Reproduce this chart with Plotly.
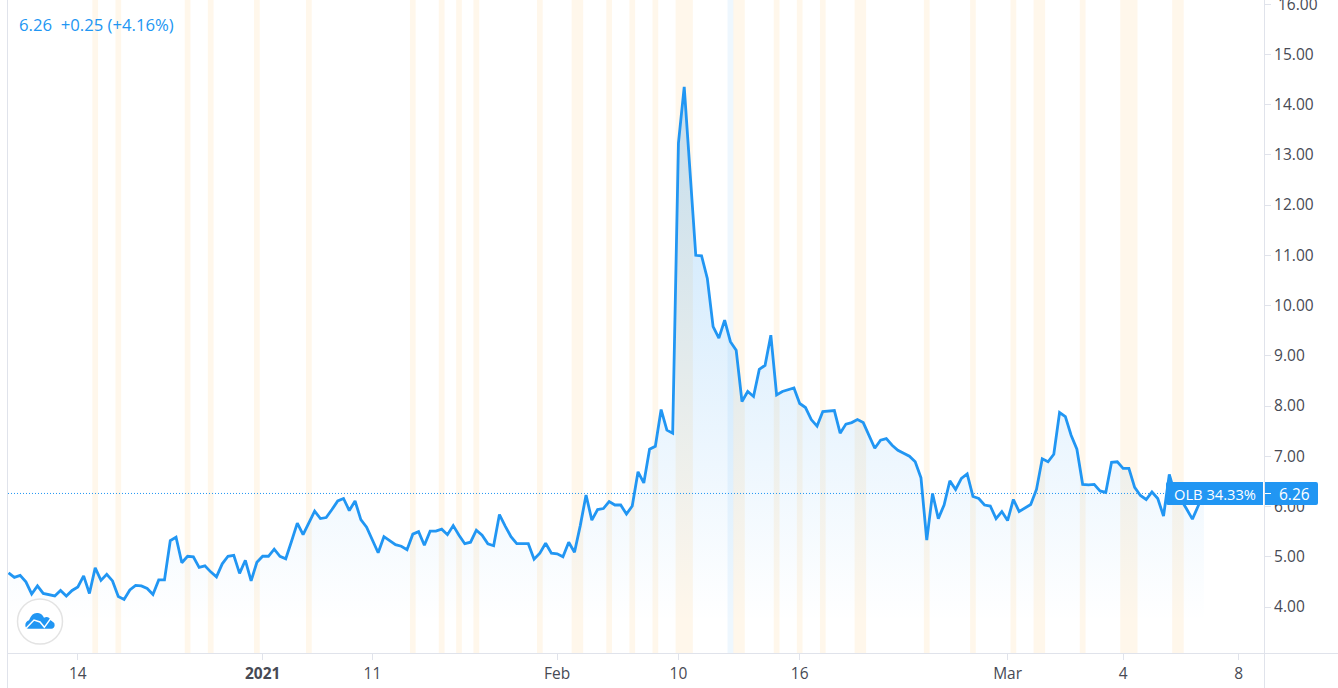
import plotly.graph_objects as go

FONT = "Open Sans, Noto Sans, sans-serif"
BLUE = "#2196f3"
AXIS = "#e0e3eb"
TEXT = "#474a54"

prices = [
    4.68,4.59,4.63,4.50,4.26,4.42,4.27,4.25,4.22,4.33,4.22,4.33,4.40,4.62,4.27,4.78,4.53,4.65,4.52,4.21,
    4.15,4.34,4.43,4.42,4.37,4.25,4.54,4.54,5.32,5.39,4.88,5.01,5.00,4.79,4.82,4.70,4.60,4.86,5.01,5.03,
    4.67,4.93,4.52,4.89,5.01,5.01,5.15,5.01,4.96,5.31,5.67,5.44,5.68,5.91,5.76,5.78,5.94,6.11,6.16,5.92,
    6.11,5.74,5.59,5.33,5.08,5.40,5.32,5.24,5.21,5.14,5.45,5.50,5.23,5.51,5.51,5.55,5.44,
    5.62,5.43,5.26,5.29,5.53,5.43,5.26,5.22,5.84,5.61,5.40,5.26,5.26,5.26,4.95,5.07,5.27,5.07,5.06,5.00,
    5.29,5.09,5.62,6.23,5.73,5.94,5.96,6.10,6.03,6.03,5.85,6.01,6.69,6.47,7.14,7.20,7.93,7.52,7.46,
    13.23,14.35,12.76,11.00,10.99,10.54,9.58,9.35,9.71,9.28,9.11,8.09,8.29,8.19,8.73,8.81,9.41,8.22,8.29,
    8.32,8.36,8.05,7.97,7.73,7.60,7.89,7.90,7.91,7.46,7.64,7.67,7.73,7.67,7.42,7.16,7.32,7.35,7.22,7.12,
    7.06,7.00,6.89,6.57,5.33,6.26,5.76,6.03,6.51,6.34,6.56,6.65,6.20,6.16,6.03,6.01,5.76,5.90,5.72,6.14,
    5.90,5.97,6.04,6.34,6.95,6.89,7.04,7.87,7.79,7.42,7.14,6.44,6.43,6.44,6.31,6.28,6.88,6.89,6.76,6.76,
    6.38,6.22,6.14,6.29,6.16,5.81,6.64,6.24,6.14,5.95,5.75,6.01,6.26,
]
sessions = list(range(len(prices)))

x_tick_sessions = [12, 44, 63, 95, 116, 137, 173, 193, 213]
x_tick_labels = ["14", "<b>2021</b>", "11", "Feb", "10", "16", "Mar", "4", "8"]
y_ticks = [4, 5, 6, 7, 8, 9, 10, 11, 12, 13, 14, 15, 16]

# highlighted sessions (first, last)
orange_bands = [(15,15),(19,19),(31,31),(35,35),(43,43),(52,52),(70,70),(75,75),(78,78),(81,81),(92,92),
                (98,99),(104,104),(108,108),(112,112),(116,118),(126,127),(133,133),(137,137),(141,141),
                (147,148),(159,159),(167,167),(174,174),(178,179),(186,186),(193,195),(202,203)]
blue_bands = [(125,125)]

last_price = 6.26
header = "6.26\u00a0\u00a0+0.25 (+4.16%)"
tag_left = "OLB 34.33%"
tag_right = "6.26"

L, R, T, B = 8, 1264, 0, 653
W, H = 1338, 688
def px(x): return (x - L) / (R - L)
def py(y): return (B - y) / (B - T)
def pt(x, y): return f"{px(x):.5f},{py(y):.5f}"
def pts(d, ox, oy, s=1/3):
    """Convert an SVG path written in local zoom units into paper coordinates."""
    out = []
    for tok in d.split():
        if "," in tok:
            a, b = tok.split(",")
            out.append(pt(ox + float(a) * s, oy + float(b) * s))
        else:
            out.append(tok)
    return " ".join(out)

fig = go.Figure()
fig.add_trace(go.Scatter(
    x=sessions, y=prices, mode="lines",
    line=dict(color=BLUE, width=2.8, shape="linear"),
    fill="tozeroy",
    fillgradient=dict(type="vertical", start=3.7, stop=14.35,
                      colorscale=[[0, "rgba(33,150,243,0)"], [1, "rgba(33,150,243,0.26)"]]),
    hoverinfo="skip", showlegend=False, cliponaxis=True,
))

shapes = []
for a, b in orange_bands:
    shapes.append(dict(type="rect", xref="x", yref="paper", x0=a-0.5, x1=b+0.5, y0=0, y1=1,
                       fillcolor="rgba(255,152,0,0.08)", line_width=0, layer="below"))
for a, b in blue_bands:
    shapes.append(dict(type="rect", xref="x", yref="paper", x0=a-0.5, x1=b+0.5, y0=0, y1=1,
                       fillcolor="rgba(33,150,243,0.08)", line_width=0, layer="below"))
# last price dotted line
shapes.append(dict(type="line", xref="paper", yref="y", x0=0, x1=1, y0=last_price, y1=last_price,
                   line=dict(color=BLUE, width=1, dash="1px,2px"), layer="above"))
# frame lines
shapes.append(dict(type="line", xref="paper", yref="paper", x0=px(7.5), x1=px(7.5), y0=py(0), y1=py(H),
                   line=dict(color=AXIS, width=1), layer="above"))
shapes.append(dict(type="line", xref="paper", yref="paper", x0=px(1264.5), x1=px(1264.5), y0=py(0), y1=py(H),
                   line=dict(color=AXIS, width=1), layer="above"))
shapes.append(dict(type="line", xref="paper", yref="paper", x0=px(7.5), x1=px(W), y0=py(653.5), y1=py(653.5),
                   line=dict(color=AXIS, width=1), layer="above"))
# price tags
shapes.append(dict(type="path", xref="paper", yref="paper", fillcolor=BLUE, line_width=0, layer="above",
    path=f"M {pt(1168,482)} L {pt(1263,482)} L {pt(1263,505)} L {pt(1168,505)} Q {pt(1166,505)} {pt(1166,503)} "
         f"L {pt(1166,484)} Q {pt(1166,482)} {pt(1168,482)} Z"))
shapes.append(dict(type="path", xref="paper", yref="paper", fillcolor=BLUE, line_width=0, layer="above",
    path=f"M {pt(1265,482)} L {pt(1316,482)} Q {pt(1318,482)} {pt(1318,484)} L {pt(1318,503)} "
         f"Q {pt(1318,505)} {pt(1316,505)} L {pt(1265,505)} Z"))
shapes.append(dict(type="line", xref="paper", yref="paper", x0=px(1265), x1=px(1271), y0=py(493.5), y1=py(493.5),
                   line=dict(color="white", width=1), layer="above"))
# logo
shapes.append(dict(type="circle", xref="paper", yref="paper", x0=px(17.5), x1=px(62.5), y0=py(599), y1=py(644),
                   fillcolor="white", line=dict(color="#e3e3e3", width=1.5), layer="above"))
cloud = "M 46,100 Q 46,89 57,85 Q 66,60 84,63 Q 97,65 102,77 Q 116,71 122,85 Q 134,89 134,100 Q 133,110 124,110 L 56,110 Q 46,110 46,100 Z"
zig = "M 49,108 L 72,84 L 90,90 L 103,106 L 122,80 L 132,90"
shapes.append(dict(type="path", xref="paper", yref="paper", fillcolor=BLUE, line_width=0, layer="above",
                   path=pts(cloud, 10, 592)))
shapes.append(dict(type="path", xref="paper", yref="paper", line=dict(color="white", width=1.5), layer="above",
                   path=pts(zig, 10, 592)))

annotations = [
    dict(xref="paper", yref="paper", x=px(17), y=py(25), xanchor="left", yanchor="middle", showarrow=False,
         text=header, font=dict(family=FONT, size=16.7, color=BLUE)),
    dict(xref="paper", yref="paper", x=px(1214.5), y=py(494), xanchor="center", yanchor="middle", showarrow=False,
         text=tag_left, font=dict(family=FONT, size=14.7, color="white")),
    dict(xref="paper", yref="paper", x=px(1294.5), y=py(494), xanchor="center", yanchor="middle", showarrow=False,
         text=tag_right, font=dict(family=FONT, size=15.5, color="white")),
    dict(xref="paper", yref="paper", x=px(1276), y=py(4), xanchor="left", yanchor="middle", showarrow=False,
         text=f"{y_ticks[-1]:.2f}", font=dict(family=FONT, size=15.5, color=TEXT)),
]

fig.update_layout(
    width=W, height=H,
    margin=dict(l=L, r=W-R, t=T, b=H-B),
    paper_bgcolor="white", plot_bgcolor="white",
    font=dict(family=FONT, color=TEXT, size=15.5),
    shapes=shapes, annotations=annotations, showlegend=False,
    xaxis=dict(range=[-0.1, 217.4], showgrid=False, zeroline=False, showline=False,
               tickmode="array", tickvals=x_tick_sessions, ticktext=x_tick_labels,
               ticks="outside", ticklen=6, tickcolor=AXIS, tickwidth=1,
               tickangle=0, tickfont=dict(family=FONT, size=15.5, color=TEXT)),
    yaxis=dict(range=[3.085, 16.08], side="right", showgrid=False, zeroline=False, showline=False,
               tickmode="array", tickvals=y_ticks, ticktext=[f"{v:.2f}" for v in y_ticks],
               ticks="outside", ticklen=6, tickcolor=AXIS, tickwidth=1,
               tickfont=dict(family=FONT, size=15.5, color=TEXT)),
)
fig.write_html("out.html", config=dict(displayModeBar=False),
               post_script="document.body.style.margin='0';document.body.style.overflow='hidden';")
